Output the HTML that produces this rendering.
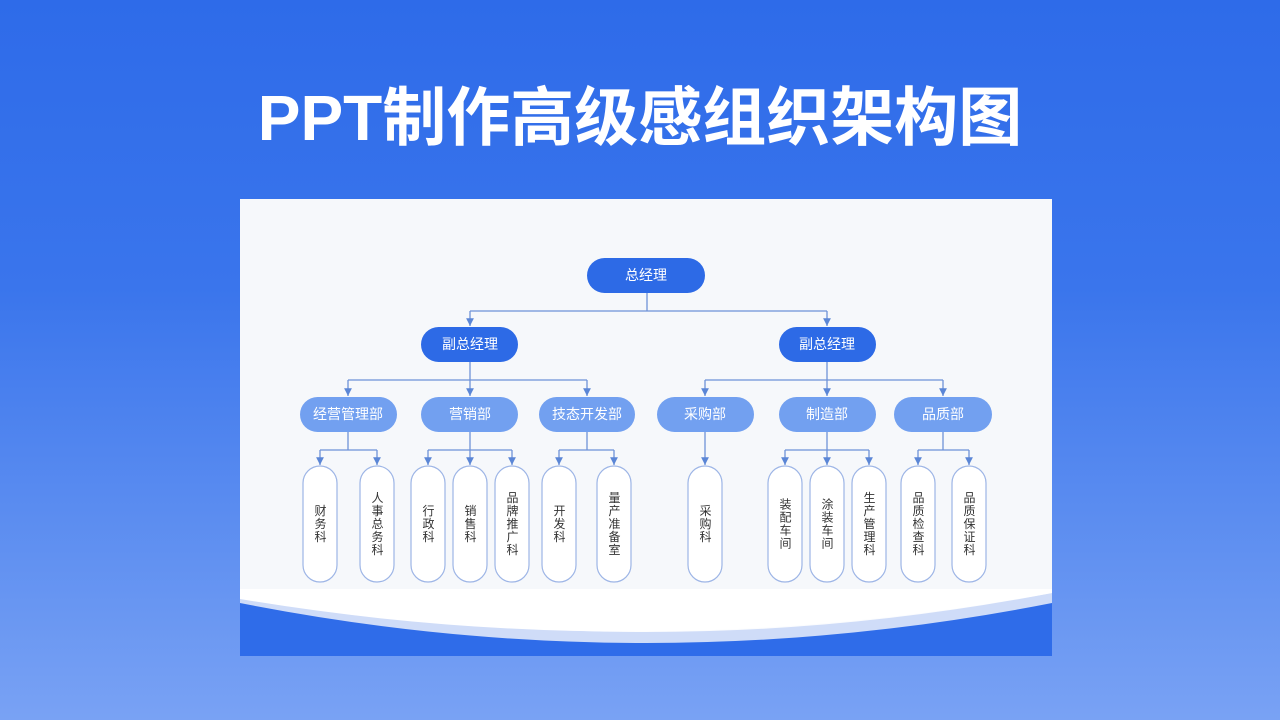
<!DOCTYPE html>
<html><head><meta charset="utf-8"><style>
html,body{margin:0;padding:0;width:1280px;height:720px;overflow:hidden}
body{background:linear-gradient(180deg,#2e6be9 0%,#3a75ec 40%,#79a2f4 100%);font-family:"Liberation Sans","Noto Sans CJK SC",sans-serif}
</style></head><body>
<svg width="1280" height="720" xmlns="http://www.w3.org/2000/svg" style="position:absolute;left:0;top:0">
<defs>
<marker id="a" viewBox="0 0 6 6" refX="6" refY="3" markerWidth="6" markerHeight="6" orient="auto">
<path d="M0,0 L6,3 L0,6 z" fill="#5b86d6"/>
</marker>
</defs>
<text x="640" y="140" text-anchor="middle" fill="#fff" font-size="64" font-weight="bold" font-family="Liberation Sans,Noto Sans CJK SC,sans-serif">PPT制作高级感组织架构图</text>
<g transform="translate(240,199)">
<rect x="0" y="0" width="812" height="457" fill="#fbfcfe"/>
<rect x="0" y="0" width="812" height="390" fill="#f3f6fa" opacity="0.7"/>
<path d="M0,400 Q406,484 812,400 L812,457 L0,457 Z" fill="#2f6ce9"/>
<path d="M0,394 Q406,472 812,394 L812,404 Q406,484 0,404 Z" fill="#cfdcf8"/>
<path d="M0,390 L812,390 L812,394 Q406,468 0,400 Z" fill="#ffffff"/>
</g>
<g stroke="#6e92d8" stroke-width="1.3" fill="none">
<path d="M647,293 V311 M470,311 H827"/>
<path d="M470,311 V326" marker-end="url(#a)"/><path d="M827,311 V326" marker-end="url(#a)"/>
<path d="M470,362 V380 M348,380 H587 M827,362 V380 M705,380 H943"/>
<path d="M348,380 V396" marker-end="url(#a)"/><path d="M470,380 V396" marker-end="url(#a)"/><path d="M587,380 V396" marker-end="url(#a)"/>
<path d="M705,380 V396" marker-end="url(#a)"/><path d="M827,380 V396" marker-end="url(#a)"/><path d="M943,380 V396" marker-end="url(#a)"/>
<path d="M348,432 V450 M320,450 H377 M470,432 V450 M428,450 H512 M587,432 V450 M559,450 H614 M827,432 V450 M785,450 H869 M943,432 V450 M918,450 H969 M705,432 V450"/>
<path d="M320,450 V465" marker-end="url(#a)"/><path d="M377,450 V465" marker-end="url(#a)"/>
<path d="M428,450 V465" marker-end="url(#a)"/><path d="M470,450 V465" marker-end="url(#a)"/><path d="M512,450 V465" marker-end="url(#a)"/>
<path d="M559,450 V465" marker-end="url(#a)"/><path d="M614,450 V465" marker-end="url(#a)"/>
<path d="M705,450 V465" marker-end="url(#a)"/>
<path d="M785,450 V465" marker-end="url(#a)"/><path d="M827,450 V465" marker-end="url(#a)"/><path d="M869,450 V465" marker-end="url(#a)"/>
<path d="M918,450 V465" marker-end="url(#a)"/><path d="M969,450 V465" marker-end="url(#a)"/>
</g>
<g font-family="Liberation Sans,Noto Sans CJK SC,sans-serif" text-anchor="middle" fill="#fff" font-size="14">
<rect x="587" y="258" width="118" height="35" rx="17.5" fill="#2d6ae6"/><text x="646" y="280">总经理</text>
<rect x="421" y="327" width="97" height="35" rx="17.5" fill="#2d6ae6"/><text x="470" y="349">副总经理</text>
<rect x="779" y="327" width="97" height="35" rx="17.5" fill="#2d6ae6"/><text x="827" y="349">副总经理</text>
<g fill="#72a0f0">
<rect x="300" y="397" width="97" height="35" rx="17.5"/><rect x="421" y="397" width="97" height="35" rx="17.5"/><rect x="539" y="397" width="96" height="35" rx="17.5"/>
<rect x="657" y="397" width="97" height="35" rx="17.5"/><rect x="779" y="397" width="97" height="35" rx="17.5"/><rect x="894" y="397" width="98" height="35" rx="17.5"/>
</g>
<text x="348" y="419">经营管理部</text><text x="470" y="419">营销部</text><text x="587" y="419">技态开发部</text>
<text x="705" y="419">采购部</text><text x="827" y="419">制造部</text><text x="943" y="419">品质部</text>
</g>
<g fill="#fff" stroke="#9db5e6" stroke-width="1.2">
<rect x="303" y="466" width="34" height="116" rx="17"/><rect x="360" y="466" width="34" height="116" rx="17"/>
<rect x="411" y="466" width="34" height="116" rx="17"/><rect x="453" y="466" width="34" height="116" rx="17"/><rect x="495" y="466" width="34" height="116" rx="17"/>
<rect x="542" y="466" width="34" height="116" rx="17"/><rect x="597" y="466" width="34" height="116" rx="17"/>
<rect x="688" y="466" width="34" height="116" rx="17"/>
<rect x="768" y="466" width="34" height="116" rx="17"/><rect x="810" y="466" width="34" height="116" rx="17"/><rect x="852" y="466" width="34" height="116" rx="17"/>
<rect x="901" y="466" width="34" height="116" rx="17"/><rect x="952" y="466" width="34" height="116" rx="17"/>
</g>
<g font-family="Liberation Sans,Noto Sans CJK SC,sans-serif" fill="#333" font-size="12">
<text x="320" y="524" text-anchor="middle" style="writing-mode:vertical-rl;letter-spacing:1px">财务科</text>
<text x="377" y="524" text-anchor="middle" style="writing-mode:vertical-rl;letter-spacing:1px">人事总务科</text>
<text x="428" y="524" text-anchor="middle" style="writing-mode:vertical-rl;letter-spacing:1px">行政科</text>
<text x="470" y="524" text-anchor="middle" style="writing-mode:vertical-rl;letter-spacing:1px">销售科</text>
<text x="512" y="524" text-anchor="middle" style="writing-mode:vertical-rl;letter-spacing:1px">品牌推广科</text>
<text x="559" y="524" text-anchor="middle" style="writing-mode:vertical-rl;letter-spacing:1px">开发科</text>
<text x="614" y="524" text-anchor="middle" style="writing-mode:vertical-rl;letter-spacing:1px">量产准备室</text>
<text x="705" y="524" text-anchor="middle" style="writing-mode:vertical-rl;letter-spacing:1px">采购科</text>
<text x="785" y="524" text-anchor="middle" style="writing-mode:vertical-rl;letter-spacing:1px">装配车间</text>
<text x="827" y="524" text-anchor="middle" style="writing-mode:vertical-rl;letter-spacing:1px">涂装车间</text>
<text x="869" y="524" text-anchor="middle" style="writing-mode:vertical-rl;letter-spacing:1px">生产管理科</text>
<text x="918" y="524" text-anchor="middle" style="writing-mode:vertical-rl;letter-spacing:1px">品质检查科</text>
<text x="969" y="524" text-anchor="middle" style="writing-mode:vertical-rl;letter-spacing:1px">品质保证科</text>
</g>
</svg>
</body></html>
